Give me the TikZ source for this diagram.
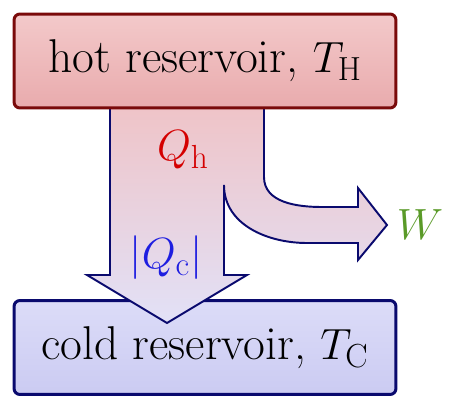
\documentclass[tikz,border=0pt]{standalone}
\usepackage{amsmath}
\DeclareMathSizes{27}{27}{19}{14}
\definecolor{hotedge}{HTML}{7A0A0A}
\definecolor{coldedge}{HTML}{0A0A6E}
\definecolor{hottop}{HTML}{F3C9CA}
\definecolor{hotbot}{HTML}{E9ABAD}
\definecolor{coldtop}{HTML}{DCDCF8}
\definecolor{coldbot}{HTML}{CBCBF2}
\definecolor{flowtop}{HTML}{EFC4C8}
\definecolor{flowbot}{HTML}{E2E1F7}
\definecolor{heatred}{HTML}{D40000}
\definecolor{heatblue}{HTML}{1E1EE0}
\definecolor{workgreen}{HTML}{5A9A28}

\begin{document}
\begin{tikzpicture}[x=0.02cm,y=-0.02cm,
  font=\fontsize{27}{32}\selectfont,
  reservoir/.style={rounded corners=3.4pt,line width=1.7pt,
    minimum width=7.64cm,minimum height=1.88cm,inner sep=0pt}]
 \useasboundingbox (0,0) rectangle (474,409);
 % shaft edges and heads (pixel units)
 \def\shl{110}\def\shr{224}\def\brr{264}
 \def\headc{275}\def\tipc{323}
 \def\wlow{243}\def\wup{207}\def\wx{358}
 \node[reservoir,draw=coldedge,top color=coldtop,bottom color=coldbot]
   (cold) at (205,347.5) {cold reservoir, $T_\text{C}$};
 \draw[coldedge,line width=1.1pt,top color=flowtop,bottom color=flowbot,
   line join=miter]
   (\shl,108) -- (\shl,\headc) -- (87,\headc) -- (167,\tipc) -- (247,\headc)
   -- (\shr,\headc) -- (\shr,185) to[out=-90,in=180] (307,\wlow)
   -- (\wx,\wlow) -- (\wx,260) -- (387,225) -- (\wx,188) -- (\wx,\wup)
   -- (322,\wup) to[out=180,in=-90] (\brr,177) -- (\brr,108) -- cycle;
 \node[reservoir,draw=hotedge,top color=hottop,bottom color=hotbot]
   (hot) at (205,61) {hot reservoir, $T_\text{H}$};
 \node[heatred] (qh) at (183,150) {$Q_\text{h}$};
 \node[heatblue] (qc) at (166,258) {$|Q_\text{c}|$};
 \node[workgreen] (w) at (420,225) {$W$};
\end{tikzpicture}
\end{document}
